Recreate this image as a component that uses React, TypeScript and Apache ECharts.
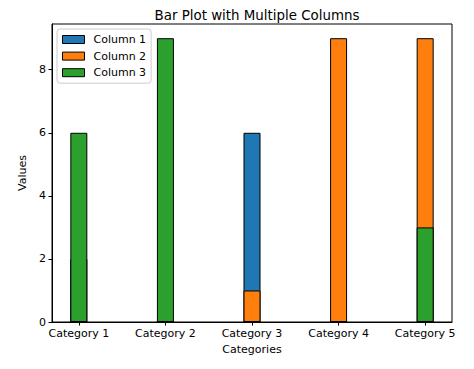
import React, { useEffect, useRef } from "react";
import * as echarts from "echarts";

const categories = ["Category 1", "Category 2", "Category 3", "Category 4", "Category 5"];
const seriesNames = ["Column 1", "Column 2", "Column 3"];
const column1 = [2, 0, 6, 0, 0];
const column2 = [0, 0, 1, 9, 9];
const column3 = [6, 9, 0, 0, 3];
const colors = ["#1f77b4", "#ff7f0e", "#2ca02c"];
const yTicks = [0, 2, 4, 6, 8];
const xTicks = [0, 1, 2, 3, 4];

const FONT = "DejaVu Sans";
const FS = 11;

export default function App() {
  const ref = useRef<HTMLDivElement>(null);
  useEffect(() => {
    if (!ref.current) return;
    const chart = echarts.init(ref.current, undefined, { renderer: "svg" });
    const all = [column1, column2, column3];
    chart.setOption({
      animation: false,
      textStyle: { fontFamily: FONT, color: "#000" },
      title: {
        text: "Bar Plot with Multiple Columns",
        left: 252,
        textAlign: "center",
        top: 4,
        textStyle: { fontFamily: FONT, fontSize: 13.4, fontWeight: "normal", color: "#000" },
      },
      legend: {
        orient: "vertical",
        left: 57,
        top: 29,
        padding: [4, 5, 4, 5],
        itemWidth: 22,
        itemHeight: 8,
        itemGap: 3.6,
        borderColor: "#cccccc",
        borderWidth: 1,
        borderRadius: 3,
        backgroundColor: "rgba(255,255,255,0.8)",
        textStyle: { fontFamily: FONT, fontSize: FS, color: "#000", lineHeight: 13, padding: [0, 0, 0, 4] },
        data: seriesNames.map((n, i) => ({
          name: n,
          icon: "rect",
          itemStyle: { color: colors[i], borderColor: "#000", borderWidth: 1 },
        })),
      },
      grid: {
        left: 52,
        right: 22,
        top: 24,
        bottom: 47,
        show: true,
        borderColor: "#000",
        borderWidth: 1,
        backgroundColor: "transparent",
      },
      xAxis: {
        type: "value",
        min: -0.31,
        max: 4.31,
        name: "Categories",
        nameLocation: "middle",
        nameGap: 22,
        nameTextStyle: { fontFamily: FONT, fontSize: FS, color: "#000" },
        axisLine: { show: true, onZero: false, lineStyle: { color: "#000", width: 1 } },
        axisTick: { show: true, customValues: xTicks, length: 3.5, lineStyle: { color: "#000" } },
        axisLabel: {
          customValues: xTicks,
          formatter: (v: number) => categories[Math.round(v)] ?? "",
          fontFamily: FONT,
          fontSize: FS,
          color: "#000",
          margin: 6,
        },
        splitLine: { show: false },
      },
      yAxis: {
        type: "value",
        min: 0,
        max: 9.45,
        name: "Values",
        nameLocation: "middle",
        nameGap: 24,
        nameRotate: 90,
        nameTextStyle: { fontFamily: FONT, fontSize: FS, color: "#000" },
        axisLine: { show: true, onZero: false, lineStyle: { color: "#000", width: 1 } },
        axisTick: { show: true, customValues: yTicks, length: 3.5, lineStyle: { color: "#000" } },
        axisLabel: {
          customValues: yTicks,
          fontFamily: FONT,
          fontSize: FS,
          color: "#000",
          margin: 6,
        },
        splitLine: { show: false },
      },
      series: all.map((vals, si) => ({
        name: seriesNames[si],
        type: "bar",
        barWidth: 17,
        barGap: "-100%",
        data: vals.map((v, i) => [i, v]),
        itemStyle: { color: colors[si], borderColor: "#000", borderWidth: 1 },
      })),
    });
    return () => chart.dispose();
  }, []);
  return <div ref={ref} style={{ width: 474, height: 369, position: "absolute", left: 0, top: 0 }} />;
}
